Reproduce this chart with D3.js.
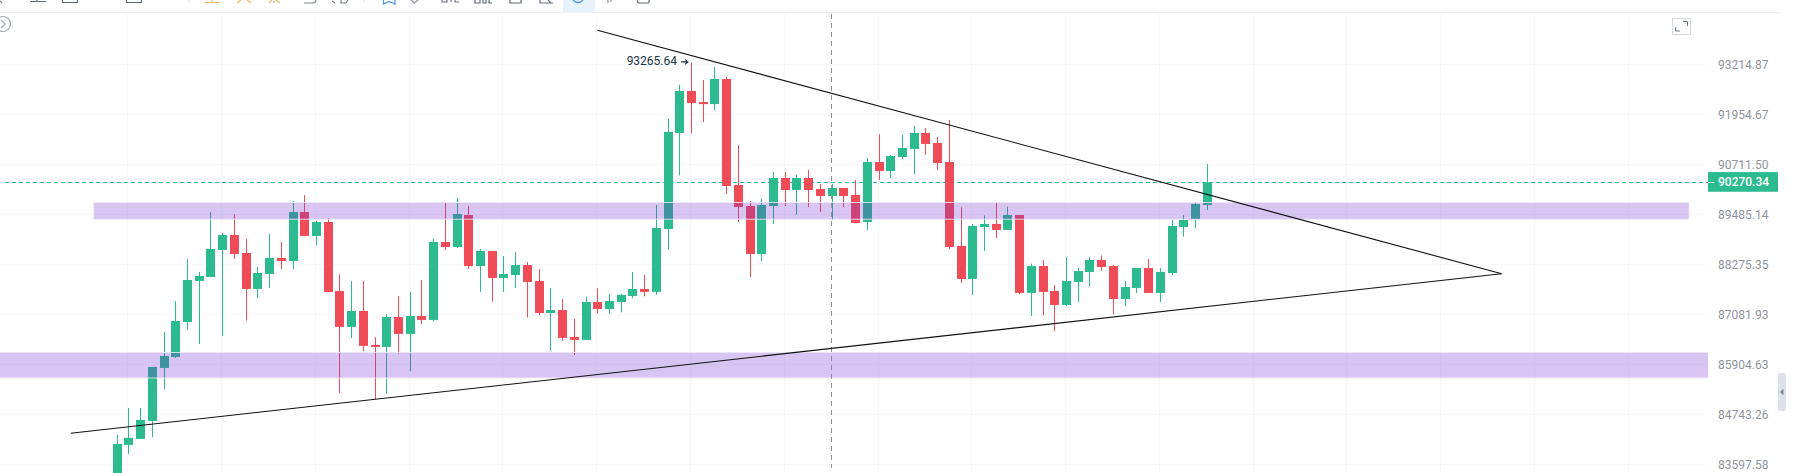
<!DOCTYPE html>
<html>
<head>
<meta charset="utf-8">
<script src="https://cdn.jsdelivr.net/npm/d3@7"></script>
<style>
  html, body { margin: 0; padding: 0; background: #fff; overflow: hidden; }
  svg { display: block; font-family: Roboto, sans-serif; }
</style>
</head>
<body>
<div id="chart"></div>
<script>
// candle values, one entry per candle
var opens = [82900,84040,84178,84590,85820,86077,86901,87877,87973,88622,88985,88549,87686,88044,88428,88356,89542,88961,89299,87638,86784,87161,86360,86313,87019,86619,87043,86949,88815,88694,89469,88235,88598,87949,88020,88259,87877,87113,87185,86548,86478,87376,87209,87376,87519,87686,87615,89130,91491,92542,92264,92213,92845,90204,89689,88525,89689,90376,90081,90376,90106,89934,90130,89959,89299,90770,90547,90894,91093,91491,91242,90770,88719,87925,89178,89251,89106,89469,87591,88235,87638,87304,87853,88092,88380,88235,87447,87710,88187,87591,88068,89178,89372,89713];
var closes = [84063,84201,84613,85843,86101,86925,87901,87997,88646,88985,88525,87686,88068,88428,88356,89542,88961,89299,87615,86784,87161,86336,86313,87019,86619,87043,86949,88815,88694,89493,88235,88598,87949,88044,88259,87853,87113,87185,86525,86478,87376,87209,87400,87543,87686,87615,89154,91516,92542,92239,92213,92845,90179,89664,88525,89713,90376,90081,90376,90081,89934,90130,89934,89275,90770,90547,90919,91118,91491,91217,90745,88694,87925,89203,89251,89106,89469,87591,88235,87615,87304,87877,88116,88380,88211,87447,87734,88187,87591,88092,89203,89348,89738,90270.34];
var highs = [84270,84891,84891,85843,86666,87400,88396,88092,89542,89033,89493,88888,88211,89009,88815,89812,89959,89324,89388,88036,87877,87877,86540,87090,87511,87615,87901,88888,89763,89886,89689,88646,88598,88477,88573,88331,88164,87710,87447,86972,87503,87702,87567,87567,88092,88020,89714,91839,92702,93265.64,92819,93148,92904,91193,89812,89861,90523,90523,90449,90572,90229,90220,90130,90327,90869,91458,90944,91441,91665,91615,91391,91814,89656,89251,89461,89763,89673,89469,88291,88378,87782,88450,88187,88450,88490,88259,87877,88187,88400,88187,89348,89469,89763,90719];
var lows = [82700,83834,84178,84216,85324,86054,86713,86383,87973,86572,88404,86933,87471,87710,88164,88164,88961,88727,87615,85239,86525,86211,85092,85216,86156,85742,86854,86917,88622,88670,88164,87615,87384,87615,87710,87004,87058,86226,86454,86124,86478,87105,87090,87129,87463,87511,87551,88630,90441,91483,91764,92062,89983,89299,87973,88356,89251,89689,89469,89664,89542,89348,89656,89275,89106,90327,90376,90845,90474,90944,90572,88646,87829,87543,88598,88912,89106,87567,87043,87058,86682,87280,87376,87742,88116,87082,87280,87591,87591,87376,88020,88945,89146,89590];

var priceTicks = [93214.87, 91954.67, 90711.50, 89485.14, 88275.35, 87081.93, 85904.63, 84743.26, 83597.58];
var lastPrice = 90270.34;
var peakPrice = 93265.64;
var peakIndex = 49;
var crossIndex = 61;

// drawn zones and trend lines, as [candle index, price]
var zoneUpperIdx = [-1.96, 134.15];
var zoneUpperPrice = [89366, 89774];
var zoneLowerIdx = [-12, 135.9];
var zoneLowerPrice = [85587, 86182];
var trendUpper = [[41.02, 94084], [118.16, 88051]];
var trendLower = [[-3.92, 84308], [118.16, 88051]];
var gridIdx = d3.range(1, 130, 8);

var width = 1794, height = 473;
var plotRight = 1708, plotTop = 13;
var up = "#2cbb8f", down = "#f04c58";

var svg = d3.select("#chart").append("svg").attr("width", width).attr("height", height);

var x = d3.scaleLinear().domain([0, 93]).range([116.7, 1206.7]);
var y = d3.scaleLog().domain([83597.58, 93214.87]).range([464.3, 64.4]);

svg.append("clipPath").attr("id", "plot").append("rect")
  .attr("x", 0).attr("y", plotTop).attr("width", plotRight).attr("height", height - plotTop);

// top toolbar, only the bottom of it is in the picture
var bar = svg.append("g");
bar.append("rect").attr("x", 563).attr("y", 0).attr("width", 32).attr("height", 12).attr("fill", "#e6f3fd");
bar.append("line").attr("x1", 0).attr("x2", 1780).attr("y1", 12.5).attr("y2", 12.5).attr("stroke", "#eceef1");
var icons = [
  ["M0 1L2 3", "#7c8694"], ["M30 1.5H46M37 0V1.5", "#5f6977"], ["M62.5 0V2.5H77.5V0", "#5f6977"], ["M126.5 0V2.5H141.5V0", "#5f6977"],
  ["M205 2.5H219.5M212 0V2.5", "#e8b95a"], ["M237 3L241 0M251 3L247 0", "#e8b95a"], ["M269 3L272 0M280 3L276 0M274 1V3", "#e8b95a"],
  ["M304 3H312Q316 3 316 0", "#7c8694"], ["M332 1L335 3M340 3H346L348 0M341 0V3", "#7c8694"],
  ["M383.5 0V4L389 1.5L395 4V0", "#4d94ee"], ["M411 0L414.5 3L418 0", "#8b94a1"],
  ["M442 0V2H447V0M451 0V2M455 0V2H459", "#6a7482"], ["M475 0V3H480V0M483 0V3H486V0M489 0V3H492", "#5f6977"],
  ["M510 0V3H521V0", "#5f6977"], ["M540 0V3H553M548 0L551 3", "#6a7482"], ["M573 0Q578 5 583 0", "#4d94ee"],
  ["M608 0V3M611 0V2", "#8b94a1"], ["M637.5 0V2Q637.5 3 639 3H648Q649 3 649 2V0", "#5f6977"]
];
bar.selectAll("path").data(icons).join("path")
  .attr("d", function(d) { return d[0]; })
  .attr("fill", "none").attr("stroke", function(d) { return d[1]; }).attr("stroke-width", 1.2);
bar.selectAll("line.sep").data([189, 364]).join("line").attr("class", "sep")
  .attr("x1", function(d) { return d; }).attr("x2", function(d) { return d; })
  .attr("y1", 0).attr("y2", 3).attr("stroke", "#dfe2e6");

// grid
var grid = svg.append("g").attr("stroke", "#f7f8fa");
grid.selectAll("line.h").data(priceTicks).join("line").attr("class", "h")
  .attr("x1", 0).attr("x2", plotRight)
  .attr("y1", function(d) { return Math.round(y(d)) + 0.5; })
  .attr("y2", function(d) { return Math.round(y(d)) + 0.5; });
grid.selectAll("line.v").data(gridIdx).join("line").attr("class", "v")
  .attr("y1", plotTop).attr("y2", height)
  .attr("x1", function(d) { return Math.round(x(d)) - 0.5; })
  .attr("x2", function(d) { return Math.round(x(d)) - 0.5; });

// last price line
var lastY = Math.floor(y(lastPrice)) + 0.5;
svg.append("line")
  .attr("x1", 5).attr("x2", plotRight)
  .attr("y1", lastY).attr("y2", lastY)
  .attr("stroke", up).attr("stroke-dasharray", "4,3");

// candles
var plot = svg.append("g").attr("clip-path", "url(#plot)");
var candles = plot.selectAll("g.candle").data(d3.range(opens.length)).join("g").attr("class", "candle")
  .attr("fill", function(i) { return closes[i] >= opens[i] ? up : down; });
candles.append("rect")
  .attr("x", function(i) { return Math.round(x(i)); })
  .attr("width", 1)
  .attr("y", function(i) { return y(highs[i]); })
  .attr("height", function(i) { return y(lows[i]) - y(highs[i]); });
candles.append("rect")
  .attr("x", function(i) { return Math.round(x(i)) - 4; })
  .attr("width", 9)
  .attr("y", function(i) { return y(Math.max(opens[i], closes[i])); })
  .attr("height", function(i) { return Math.max(1.5, Math.abs(y(opens[i]) - y(closes[i]))); });

// purple zones
var zones = [[zoneUpperIdx, zoneUpperPrice], [zoneLowerIdx, zoneLowerPrice]];
plot.selectAll("rect.zone").data(zones).join("rect").attr("class", "zone")
  .attr("x", function(d) { return x(d[0][0]); })
  .attr("width", function(d) { return x(d[0][1]) - x(d[0][0]); })
  .attr("y", function(d) { return y(d[1][1]); })
  .attr("height", function(d) { return y(d[1][0]) - y(d[1][1]); })
  .attr("fill", "rgba(113,44,204,0.275)")
  .attr("stroke", "rgba(238,230,250,0.85)");

// crosshair
svg.append("line")
  .attr("x1", Math.round(x(crossIndex)) - 0.5).attr("x2", Math.round(x(crossIndex)) - 0.5)
  .attr("y1", 14).attr("y2", 468)
  .attr("stroke", "#8a93a3").attr("stroke-dasharray", "5,4");

// trend lines
var trend = d3.line().x(function(d) { return x(d[0]); }).y(function(d) { return y(d[1]); });
svg.selectAll("path.trend").data([trendUpper, trendLower]).join("path").attr("class", "trend")
  .attr("d", trend).attr("fill", "none").attr("stroke", "#111").attr("stroke-width", 1.1);

// peak label with its arrow
var peakX = x(peakIndex), peakY = y(peakPrice);
svg.append("text")
  .attr("x", peakX - 14).attr("y", peakY + 3)
  .attr("text-anchor", "end").attr("font-size", 12).attr("fill", "#22344a")
  .text(peakPrice.toFixed(2));
svg.append("path")
  .attr("transform", "translate(" + peakX + "," + (peakY - 0.5) + ")")
  .attr("d", "M-10 0H-3M-6 -2.5L-3 0L-6 2.5")
  .attr("fill", "none").attr("stroke", "#22344a").attr("stroke-width", 1.1);

// price axis
var axis = d3.axisRight(y).tickValues(priceTicks).tickSize(0).tickPadding(10)
  .tickFormat(function(d) { return d.toFixed(2); });
var axisG = svg.append("g").attr("transform", "translate(" + plotRight + ",0)").call(axis);
axisG.select(".domain").remove();
axisG.selectAll("text").attr("font-family", "Roboto, sans-serif").attr("font-size", 12).attr("fill", "#8f949c");

// last price tag
svg.append("rect").attr("x", plotRight).attr("y", y(lastPrice) - 10.2).attr("width", 70).attr("height", 19.7).attr("fill", up);
svg.append("line").attr("x1", plotRight).attr("x2", plotRight + 6).attr("y1", lastY).attr("y2", lastY).attr("stroke", "#fff");
svg.append("text")
  .attr("x", plotRight + 10).attr("y", y(lastPrice) + 4)
  .attr("font-size", 12).attr("font-weight", 500).attr("fill", "#fff")
  .text(lastPrice.toFixed(2));

// collapse button at the left
svg.append("circle").attr("cx", 3).attr("cy", 24).attr("r", 7.5).attr("fill", "none").attr("stroke", "#a6adb8").attr("stroke-width", 1.2);
svg.append("path").attr("d", "M1 20L5 24L1 28").attr("fill", "none").attr("stroke", "#a6adb8").attr("stroke-width", 1.2);

// full screen button
svg.append("rect").attr("x", 1672.5).attr("y", 18.5).attr("width", 18).attr("height", 16).attr("fill", "#fff").attr("stroke", "#d5d9e0");
svg.append("path").attr("d", "M1683 21.5H1687.5V26M1675.5 27V31H1680").attr("fill", "none").attr("stroke", "#6f7885");

// side handle
svg.append("rect").attr("x", 1778).attr("y", 373).attr("width", 8).attr("height", 38).attr("rx", 1.5).attr("fill", "#dfe3e8");
svg.append("path").attr("d", "M1783.5 388.5V395.5L1780 392Z").attr("fill", "#7f8896");
</script>
</body>
</html>
